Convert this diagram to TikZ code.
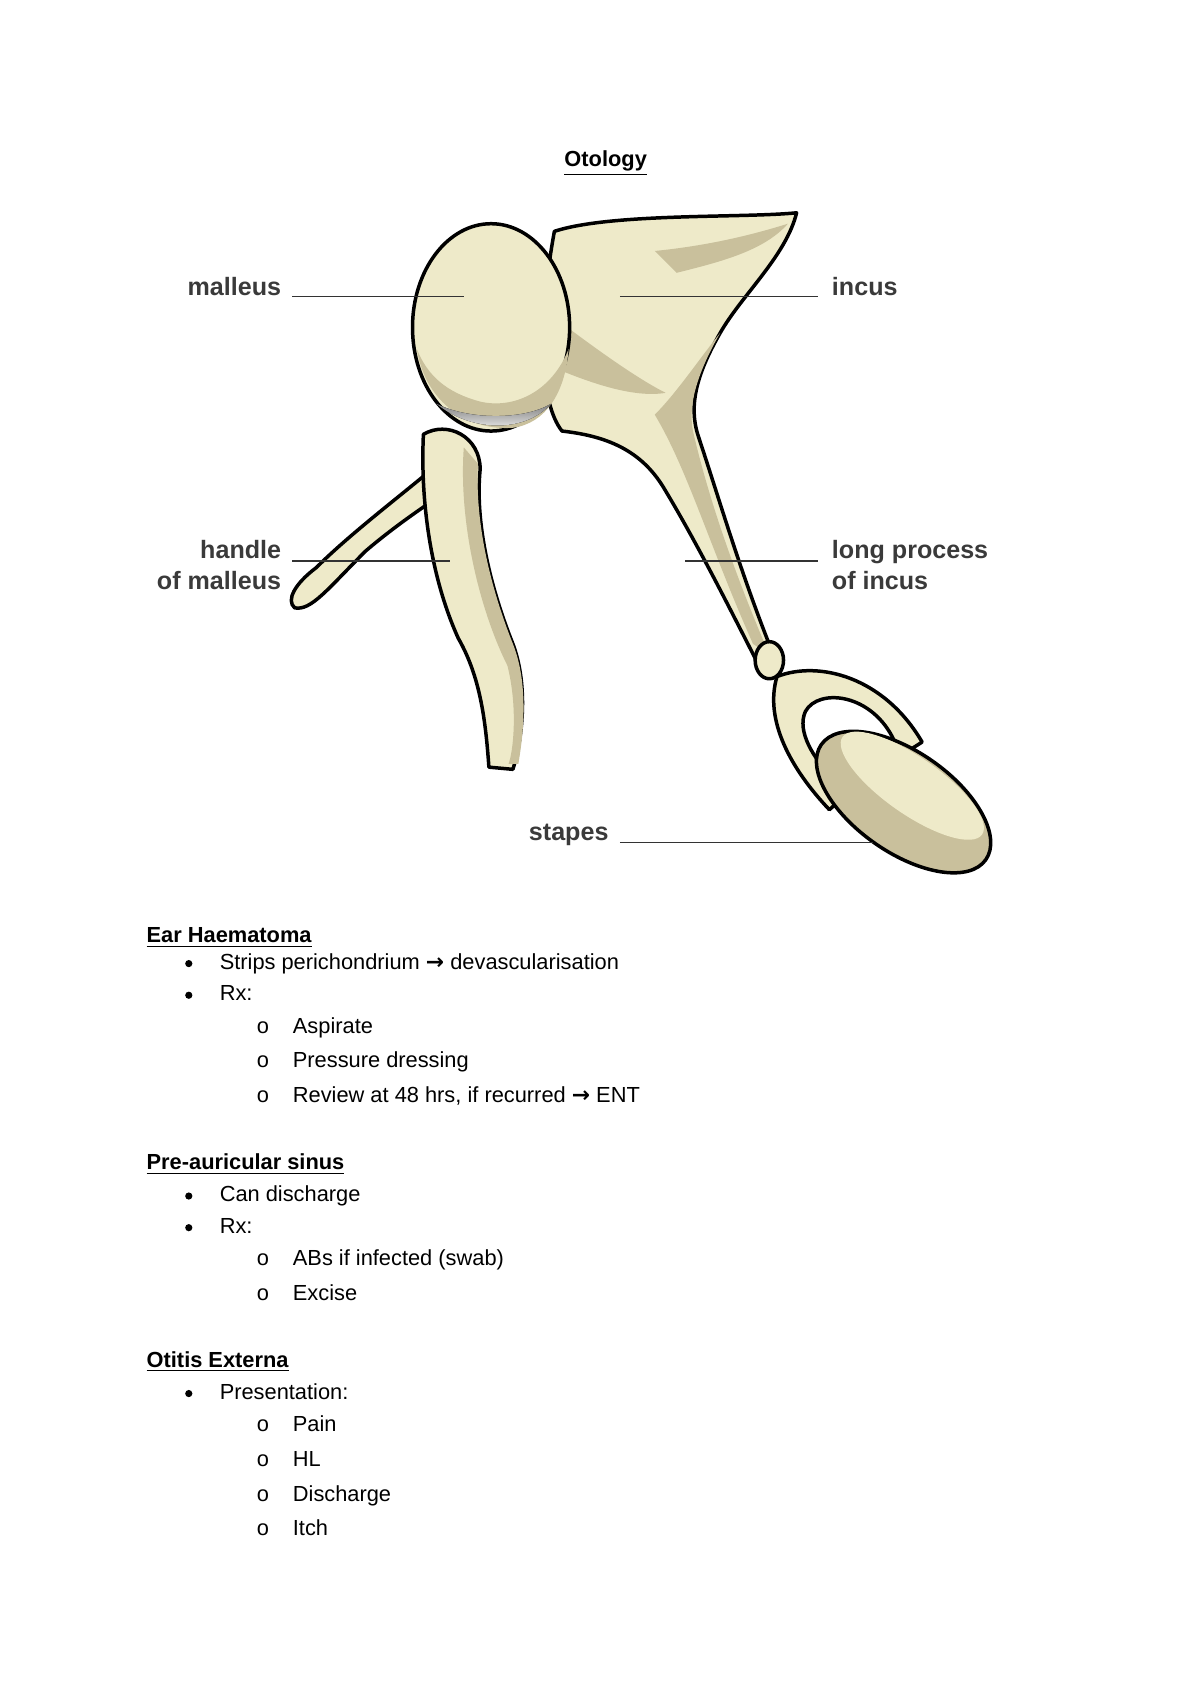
\documentclass[tikz,border=0pt]{standalone}
\usepackage{fontspec}
\setmainfont{Liberation Sans}
\newfontfamily\dejavu{DejaVu Sans}
\definecolor{cream}{HTML}{EEEAC9}
\definecolor{tan}{HTML}{C9C09C}
\definecolor{shade}{HTML}{8E8676}
\definecolor{lbl}{HTML}{3A3A3A}
\newcommand{\arr}{{\dejavu\bfseries →}}
\begin{document}
\begin{tikzpicture}[x=0.5pt,y=-0.5pt,
  lab/.style={font=\fontsize{11.5}{14}\selectfont\bfseries,text=lbl,inner sep=0pt},
  body/.style={font=\fontsize{10}{12}\selectfont,inner sep=0pt,anchor=base west},
  head/.style={font=\fontsize{10}{12}\selectfont\bfseries,inner sep=0pt,anchor=base west},
  lead/.style={draw=black!80,line width=0.6pt},
  bone/.style={fill=cream,draw=black,line width=1.6pt,line join=round}]
\useasboundingbox (0,0) rectangle (1100,1556);
% title
\node[head,anchor=base] (title) at (555,153) {\underline{Otology}};
% malleus handle + arm
\draw[bone] (415,412) .. controls (400,430) and (330,480) .. (290,520) .. controls (270,535) and (262,550) .. (270,557) .. controls (285,560) and (300,540) .. (335,505) .. controls (370,475) and (410,450) .. (425,440) -- cycle;
\draw[bone] (388,398) .. controls (410,385) and (440,400) .. (440,430) .. controls (435,480) and (450,540) .. (470,590) .. controls (485,630) and (478,680) .. (470,705) -- (448,703) .. controls (445,660) and (440,620) .. (420,585) .. controls (395,530) and (385,460) .. (388,398) -- cycle;
\fill[tan] (425,410) .. controls (420,480) and (440,560) .. (465,610) .. controls (475,650) and (470,690) .. (466,700) -- (475,700) .. controls (482,660) and (482,620) .. (470,590) .. controls (450,540) and (435,480) .. (438,425) -- cycle;
% incus
\draw[bone] (508,212) .. controls (560,195) and (680,200) .. (730,195) .. controls (720,235) and (680,270) .. (660,305) .. controls (640,340) and (630,370) .. (640,400) .. controls (660,460) and (680,530) .. (712,608) -- (698,615) .. controls (670,560) and (640,500) .. (610,450) .. controls (590,415) and (560,400) .. (515,395) .. controls (495,370) and (492,300) .. (508,212) -- cycle;
\fill[tan] (600,380) .. controls (630,430) and (650,500) .. (690,590) -- (705,600) .. controls (675,530) and (650,460) .. (635,395) .. controls (630,370) and (640,340) .. (660,305) .. controls (640,330) and (620,360) .. (600,380) -- cycle;
\fill[tan] (600,230) .. controls (650,225) and (690,215) .. (722,205) .. controls (700,230) and (660,240) .. (620,250) -- cycle;
\fill[tan] (520,300) .. controls (560,330) and (590,350) .. (610,360) .. controls (580,365) and (540,350) .. (515,340) -- cycle;
% malleus head
\draw[bone] (450,300) ellipse [x radius=72,y radius=95];
\fill[tan] (382,320) .. controls (390,370) and (430,395) .. (470,392) .. controls (500,388) and (518,360) .. (521,320) .. controls (505,360) and (470,375) .. (440,368) .. controls (410,360) and (392,345) .. (382,320) -- cycle;
\fill[shade] (400,370) .. controls (430,395) and (480,398) .. (505,370) .. controls (480,385) and (430,385) .. (400,370) -- cycle;
% stapes
\draw[bone,even odd rule] (712,620) .. controls (750,605) and (810,620) .. (845,680) -- (790,715) -- (760,742) .. controls (725,705) and (700,660) .. (712,620) -- cycle
  (738,652) .. controls (750,630) and (800,635) .. (820,680) -- (765,715) .. controls (745,695) and (730,670) .. (738,652) -- cycle;
\draw[bone] (705,605) ellipse [x radius=13,y radius=17];
\draw[bone,fill=tan,rotate around={-35:(828,735)}] (828,735) ellipse [x radius=92,y radius=46];
\draw[fill=cream,draw=none,rotate around={-35:(836,720)}] (836,720) ellipse [x radius=78,y radius=26];
% leaders
\coordinate (m1) at (268,272); \coordinate (m2) at (425,272);
\coordinate (i1) at (568,272); \coordinate (i2) at (750,272);
\coordinate (h1) at (268,514); \coordinate (h2) at (412,514);
\coordinate (l1) at (628,514); \coordinate (l2) at (750,514);
\coordinate (s1) at (568,772); \coordinate (s2) at (800,772);
\draw[lead] (m1) -- (m2); \draw[lead] (i1) -- (i2);
\draw[lead] (h1) -- (h2); \draw[lead] (l1) -- (l2);
\draw[lead] (s1) -- (s2);
\node[lab,anchor=base east] (lm) at (258,271) {malleus};
\node[lab,anchor=base west] (li) at (762,271) {incus};
\node[lab,anchor=base east,align=right] (lh) at (258,540) {handle\\of malleus};
\node[lab,anchor=base west,align=left] (ll) at (762,540) {long process\\of incus};
\node[lab,anchor=base east] (ls) at (558,770) {stapes};
% text
\node[head] (h1t) at (134,864) {\underline{Ear Haematoma}};
\foreach \y/\t [count=\i] in {888/{Strips perichondrium \arr{} devascularisation},917/{Rx:},1101/{Can discharge},1130/{Rx:},1282/{Presentation:}}{
  \node[body] (b\i) at (201,\y) {\t};
  \fill (173,\y-5) circle (3.3);}
\foreach \y/\t [count=\i] in {947/Aspirate,978/Pressure dressing,1010/{Review at 48 hrs, if recurred \arr{} ENT},1160/{ABs if infected (swab)},1192/Excise,1312/Pain,1344/HL,1376/Discharge,1407/Itch}{
  \node[body] (s\i) at (268,\y) {\t};
  \node[body] (o\i) at (235,\y) {o};}
\node[head] (h2t) at (134,1072) {\underline{Pre-auricular sinus}};
\node[head] (h3t) at (134,1253) {\underline{Otitis Externa}};
\end{tikzpicture}
\end{document}
